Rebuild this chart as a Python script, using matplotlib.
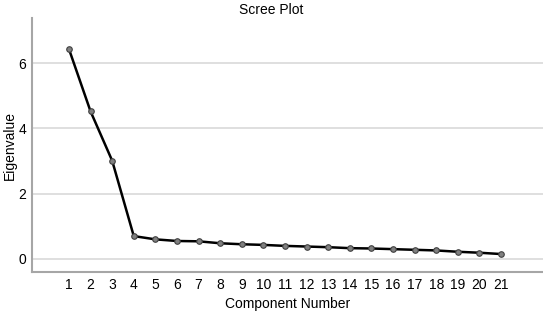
import numpy as np
import matplotlib
matplotlib.use("Agg")
import matplotlib.pyplot as plt

plt.rcParams['font.family'] = ['Liberation Sans', 'DejaVu Sans']

# scree plot data
components = list(range(1, 22))
eigenvalues = [6.43, 4.52, 3.01, 0.70, 0.60, 0.55, 0.54, 0.48, 0.45, 0.43, 0.40,
               0.38, 0.36, 0.33, 0.32, 0.30, 0.28, 0.26, 0.22, 0.19, 0.15]
yticks = [0, 2, 4, 6]

fig = plt.figure(figsize=(5.43, 3.12), dpi=100)
ax = fig.add_axes([32/543, 40/312, 1 - 32/543, (272-18)/312])

ax.plot(components, eigenvalues, color='black', lw=1.8, zorder=3,
        marker='o', markersize=4, markerfacecolor='#808080',
        markeredgecolor='#404040', markeredgewidth=0.8)

ax.set_xlim(-0.71, 22.94)
ax.set_ylim(-0.4, 7.38)
ax.set_xticks(components)
ax.set_yticks(yticks)
ax.yaxis.grid(True, color='#d9d9d9', lw=1.2)
ax.set_axisbelow(True)
ax.tick_params(length=0, labelsize=10, colors='black', pad=4)

for s in ['top', 'right']:
    ax.spines[s].set_visible(False)
for s in ['left', 'bottom']:
    ax.spines[s].set_color('#a6a6a6')
    ax.spines[s].set_linewidth(1.5)

ax.set_xlabel('Component Number', fontsize=10)
fig.text(10/543, 1 - 145/312, 'Eigenvalue', rotation=90, ha='center', va='center', fontsize=10)
fig.text(0.5, 1 - 10/312, 'Scree Plot', ha='center', va='center', fontsize=10)

fig.savefig('out.png', dpi=100)
